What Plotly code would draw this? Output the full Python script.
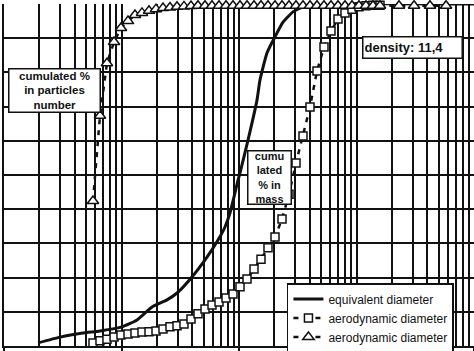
import plotly.graph_objects as go

# ---- data (diameter in µm, cumulated %) ----
eq_d = [0.0195, 0.0300, 0.0470, 0.0656, 0.101, 0.1355, 0.182, 0.244, 0.297, 0.398,
        0.534, 0.663, 0.760, 0.838, 0.981, 1.020, 1.193, 1.423, 1.509, 1.731,
        2.025, 2.369, 2.882, 3.304, 4.02, 5.95, 100.0]
eq_mass = [0.9, 2.6, 3.8, 4.4, 5.6, 7.6, 11.4, 13.5, 15.5, 20.2,
           26.0, 31.0, 34.8, 38.9, 48.5, 50.6, 60.2, 71.9, 77.8, 85.7,
           90.4, 94.7, 97.7, 98.8, 99.7, 100.0, 100.0]

aer_d = [0.0572, 0.0656, 0.0752, 0.0864, 0.0990, 0.1136, 0.1302, 0.1494, 0.1714, 0.1966,
         0.2255, 0.2587, 0.2967, 0.3403, 0.3904, 0.4478, 0.5137, 0.5892, 0.6759, 0.7753,
         0.8891, 1.020, 1.170, 1.342, 1.539, 1.765, 2.025, 2.323, 2.664, 3.056,
         3.505, 4.020, 4.611, 5.289, 6.067, 6.959, 7.982, 9.155, 10.50, 12.04,
         13.81, 15.85]
aer_mass = [0.9, 1.5, 2.0, 2.6, 3.2, 3.5, 3.8, 4.1, 4.2, 4.4,
            5.0, 5.6, 5.9, 6.4, 7.9, 9.4, 10.8, 12.0, 12.9, 14.0,
            15.2, 17.3, 19.6, 22.5, 25.4, 28.7, 31.9, 37.1, 44.4, 53.5,
            61.4, 69.9, 80.4, 87.4, 92.1, 95.6, 97.4, 98.5, 99.2, 99.5,
            99.6, 99.6]

num_d = aer_d + [23.0, 30.9, 42.2, 57.8]
num_pct = [42.4, 67.3, 82.7, 88.9, 93.0, 95.0, 96.8, 97.4, 98.0, 98.5,
           98.8, 99.0, 99.2, 99.3, 99.4, 99.5, 99.5, 99.5, 99.5, 99.5,
           99.5, 99.5, 99.5, 99.5, 99.5, 99.5, 99.5, 99.5, 99.5, 99.5,
           99.5, 99.5, 99.5, 99.5, 99.5, 99.5, 99.5, 99.5, 99.5, 99.5,
           99.5, 99.5, 99.5, 99.5, 99.5, 99.5]

INK = "#111111"
FONT = "Arial, Liberation Sans, sans-serif"

fig = go.Figure()
fig.add_trace(go.Scatter(
    x=eq_d, y=eq_mass, mode="lines", name="equivalent diameter",
    line=dict(color=INK, width=3, shape="spline", smoothing=0.5),
    cliponaxis=False))
fig.add_trace(go.Scatter(
    x=aer_d, y=aer_mass, mode="lines+markers", name="aerodynamic diameter",
    line=dict(color=INK, width=2.5, dash="5px,6px"),
    marker=dict(symbol="square", size=8, color="white", line=dict(color=INK, width=1.5)),
    cliponaxis=False))
fig.add_trace(go.Scatter(
    x=num_d, y=num_pct, mode="lines+markers", name="aerodynamic diameter",
    line=dict(color=INK, width=2.5, dash="5px,6px"),
    marker=dict(symbol="triangle-up", size=10, color="white", line=dict(color=INK, width=1.5)),
    cliponaxis=False))

box = dict(bgcolor="white", bordercolor=INK, borderwidth=1.5, showarrow=False,
           xref="paper", yref="paper", xanchor="center", yanchor="middle")
fig.add_annotation(text="<b>cumulated %<br>in particles<br>number</b>",
                   x=0.1064, y=0.7485, width=88, height=40, borderpad=1,
                   font=dict(family=FONT, size=11.5, color=INK), **box)
fig.add_annotation(text="<b>density: 11,4</b>", align="left",
                   x=0.870, y=0.873, width=96, height=18, borderpad=1,
                   font=dict(family=FONT, size=13, color=INK), **box)
fig.add_annotation(text="<b>cumu<br>lated<br>% in<br>mass</b>",
                   x=0.5649, y=0.4927, width=42, height=52, borderpad=0,
                   font=dict(family=FONT, size=11, color=INK), **box)

fig.update_xaxes(type="log", range=[-2, 2], dtick=1, showticklabels=False,
                 ticks="outside", ticklen=5, tickwidth=2, tickcolor=INK,
                 showgrid=True, gridcolor=INK, gridwidth=1.6,
                 minor=dict(dtick="D1", showgrid=True, gridcolor=INK, gridwidth=1.6, ticks=""),
                 showline=True, linecolor=INK, linewidth=2, zeroline=False, automargin=False)
fig.update_yaxes(range=[0, 100], dtick=10, showticklabels=False, ticks="",
                 showgrid=True, gridcolor=INK, gridwidth=1.6,
                 showline=True, linecolor=INK, linewidth=2, zeroline=False, automargin=False)

fig.update_layout(
    width=474, height=351, margin=dict(l=4, r=0, t=4, b=5, autoexpand=False),
    paper_bgcolor="white", plot_bgcolor="white",
    showlegend=True,
    legend=dict(x=0.602, y=0.1842, xanchor="left", yanchor="top",
                bgcolor="white", bordercolor=INK, borderwidth=1.5,
                font=dict(family=FONT, size=12, color=INK),
                itemwidth=30, tracegroupgap=0),
)

fig.write_html("out.html")
